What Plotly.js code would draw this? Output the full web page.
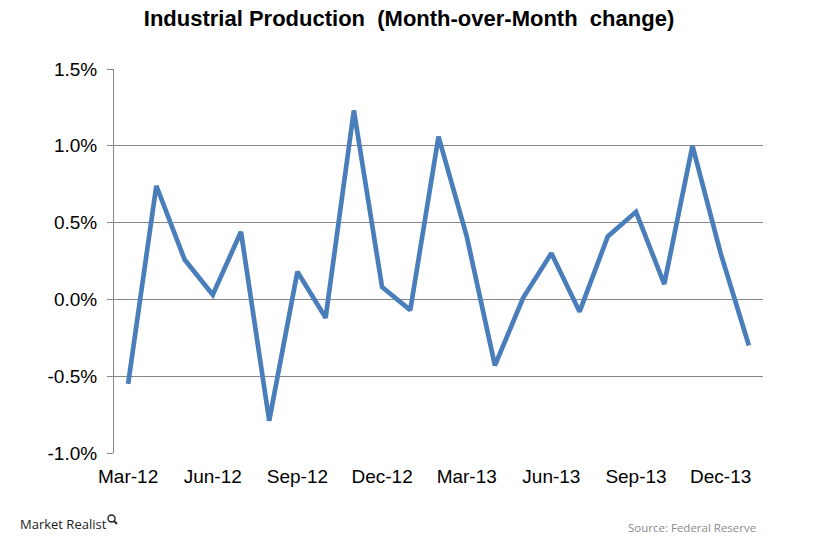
<!DOCTYPE html>
<html>
<head>
<meta charset="utf-8">
<script src="https://cdn.plot.ly/plotly-3.0.1.min.js"></script>
<style>
  html, body { margin: 0; padding: 0; background: #ffffff; }
  #plot { width: 818px; height: 536px; }
</style>
</head>
<body>
<div id="plot"></div>
<script>
// monthly change in industrial production, %
const months = ['Mar-12', 'Apr-12', 'May-12', 'Jun-12', 'Jul-12', 'Aug-12', 'Sep-12', 'Oct-12',
                'Nov-12', 'Dec-12', 'Jan-13', 'Feb-13', 'Mar-13', 'Apr-13', 'May-13', 'Jun-13',
                'Jul-13', 'Aug-13', 'Sep-13', 'Oct-13', 'Nov-13', 'Dec-13', 'Jan-14'];
const momChange = [-0.55, 0.74, 0.26, 0.03, 0.44, -0.79, 0.18, -0.12,
                   1.23, 0.08, -0.07, 1.06, 0.41, -0.43, 0.01, 0.30,
                   -0.08, 0.41, 0.57, 0.10, 1.00, 0.30, -0.30];

// axis ticks
const xTickLabels = ['Mar-12', 'Jun-12', 'Sep-12', 'Dec-12', 'Mar-13', 'Jun-13', 'Sep-13', 'Dec-13'];
const yTickVals = [-1.0, -0.5, 0.0, 0.5, 1.0, 1.5];
const yTickText = ['-1.0%', '-0.5%', '0.0%', '0.5%', '1.0%', '1.5%'];

const gridColor = '#868686';

const trace = {
    x: months,
    y: momChange,
    type: 'scatter',
    mode: 'lines',
    line: { color: '#4a7ebb', width: 4.7 },
    hoverinfo: 'x+y'
};

const layout = {
    width: 818,
    height: 536,
    margin: { l: 114, r: 55, t: 69, b: 83 },
    paper_bgcolor: '#ffffff',
    plot_bgcolor: '#ffffff',
    showlegend: false,
    font: { family: 'Liberation Sans, Arial, sans-serif', color: '#000000', size: 19 },
    title: {
        text: '<b>Industrial Production  (Month-over-Month  change)</b>',
        font: { family: 'Liberation Sans, Arial, sans-serif', size: 22, color: '#000000' },
        x: 0.5,
        xanchor: 'center',
        xref: 'container',
        y: 1 - 18 / 536,
        yanchor: 'middle',
        yref: 'container'
    },
    xaxis: {
        type: 'category',
        range: [-0.5, months.length - 0.5],
        tickvals: xTickLabels,
        ticktext: xTickLabels,
        showgrid: false,
        zeroline: false,
        showline: false,
        ticks: '',
        ticklabelstandoff: 10,
        tickfont: { size: 19 },
        fixedrange: true
    },
    yaxis: {
        range: [-1.0, 1.5],
        tickvals: yTickVals,
        ticktext: yTickText,
        showgrid: true,
        gridcolor: gridColor,
        gridwidth: 1,
        zeroline: false,
        showline: true,
        linecolor: gridColor,
        linewidth: 1,
        ticks: 'outside',
        ticklen: 6,
        tickcolor: gridColor,
        ticklabelstandoff: 6,
        tickfont: { size: 19 },
        fixedrange: true
    },
    annotations: [
        {
            text: 'Market Realist',
            xref: 'paper', yref: 'paper',
            x: -96 / 649, y: -71 / 384,
            xanchor: 'left', yanchor: 'middle',
            showarrow: false,
            font: { family: 'Open Sans, DejaVu Sans, sans-serif', size: 13, color: '#222222' }
        },
        {
            text: 'Source: Federal Reserve',
            xref: 'paper', yref: 'paper',
            x: 1 - 5 / 649, y: -74 / 384,
            xanchor: 'right', yanchor: 'middle',
            showarrow: false,
            font: { family: 'Open Sans, DejaVu Sans, sans-serif', size: 11.5, color: '#8a8a8a' }
        }
    ],
    shapes: [
        // little magnifier next to the logo text
        {
            type: 'circle', xref: 'paper', yref: 'paper',
            x0: -6 / 649, x1: 1 / 649, y0: -62 / 384, y1: -69 / 384,
            line: { color: '#222222', width: 1.4 }
        },
        {
            type: 'line', xref: 'paper', yref: 'paper',
            x0: 0 / 649, x1: 3 / 649, y0: -68 / 384, y1: -71 / 384,
            line: { color: '#222222', width: 1.8 }
        }
    ]
};

const config = { displayModeBar: false, staticPlot: true };

Plotly.newPlot('plot', [trace], layout, config);
</script>
</body>
</html>
